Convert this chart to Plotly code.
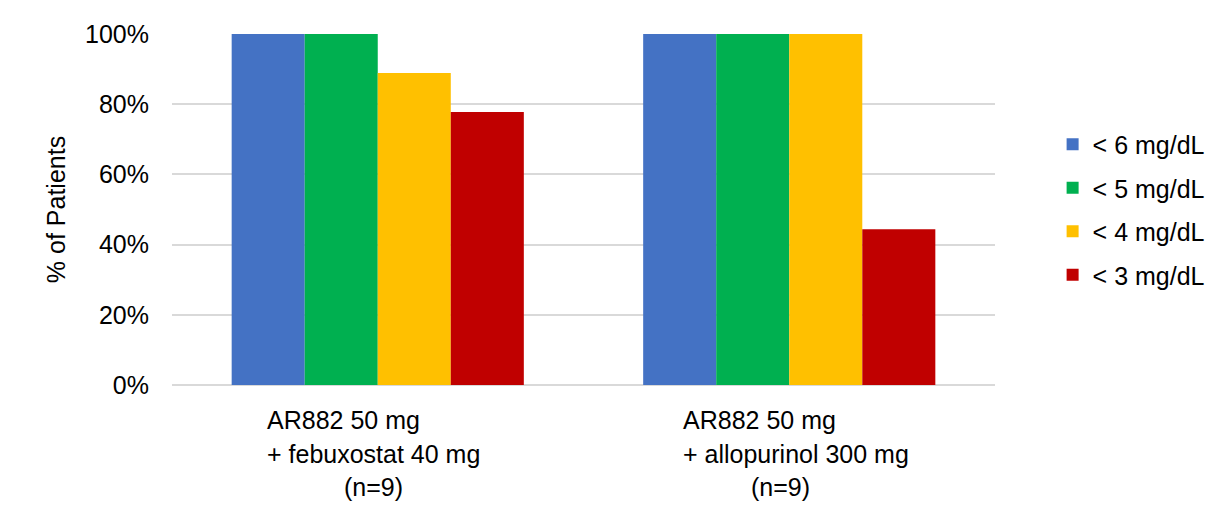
import plotly.graph_objects as go

# data (n=9 per arm)
categories = ["febuxostat", "allopurinol"]
label_lines = [
    ["AR882 50 mg", "+ febuxostat 40 mg", "(n=9)"],
    ["AR882 50 mg", "+ allopurinol 300 mg", "(n=9)"],
]
series_names = ["< 6 mg/dL", "< 5 mg/dL", "< 4 mg/dL", "< 3 mg/dL"]
series_values = [
    [1.000, 1.000],
    [1.000, 1.000],
    [0.889, 1.000],
    [0.778, 0.444],
]
colors = ["#4472C4", "#00B050", "#FFC000", "#C00000"]

FONT = "Liberation Sans, Arial, sans-serif"

fig = go.Figure()
for i, (name, vals) in enumerate(zip(series_names, series_values)):
    fig.add_trace(go.Bar(x=categories, y=vals, name=name, marker_color=colors[i],
                         marker_line_width=0, legendgroup=f"g{i}"))

# category labels: first two lines share a left edge, "(n=9)" sits further in
line_shift = [[-113, -113, -36], [-108, -108, -40]]
line_y = [-19, -53, -86]
for c, lines in enumerate(label_lines):
    for j, txt in enumerate(lines):
        fig.add_annotation(x=categories[c], xref="x", y=0, yref="paper",
                           text=txt, showarrow=False, xanchor="left", yanchor="top",
                           xshift=line_shift[c][j], yshift=line_y[j],
                           font=dict(family=FONT, size=25, color="#000000"))

# page body adds 8px, so the figure is 16px smaller than the window
fig.update_layout(
    width=1216,
    height=507,
    margin=dict(l=164, r=229, t=26, b=130),
    plot_bgcolor="white",
    paper_bgcolor="white",
    barmode="group",
    bargap=0.29,
    bargroupgap=0,
    font=dict(family=FONT, size=25, color="#000000"),
    showlegend=True,
    legend=dict(x=1.07, xanchor="left", y=0.5, yanchor="middle",
                traceorder="grouped", tracegroupgap=8,
                font=dict(family=FONT, size=25, color="#000000")),
)
fig.update_xaxes(showticklabels=False, showgrid=False, showline=False, zeroline=False)
fig.update_yaxes(
    range=[0, 1],
    dtick=0.2,
    tickformat=".0%",
    showgrid=True,
    gridcolor="#D9D9D9",
    gridwidth=1.5,
    zeroline=True,
    zerolinecolor="#D9D9D9",
    zerolinewidth=1.5,
    showline=False,
    ticklabelstandoff=22,
    title=dict(text="% of Patients", standoff=12, font=dict(family=FONT, size=25)),
)

fig.write_html("out.html")
